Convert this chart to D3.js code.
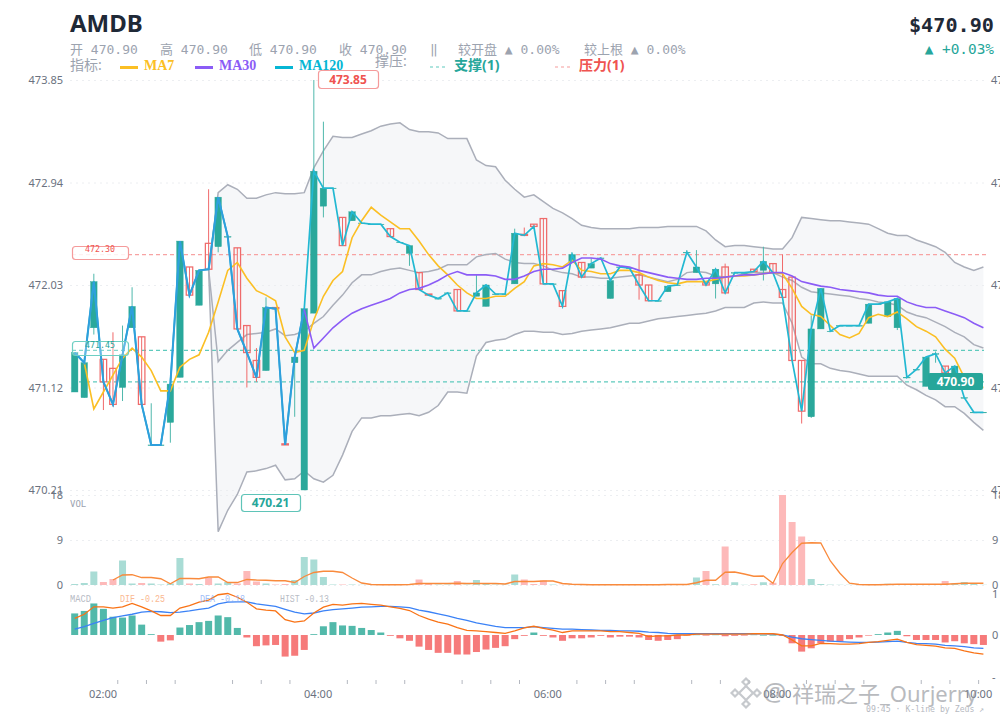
<!DOCTYPE html>
<html><head><meta charset="utf-8">
<script src="https://cdn.jsdelivr.net/npm/d3@7"></script>
<style>html,body{margin:0;padding:0;background:#fff;overflow:hidden}svg{display:block}</style>
</head><body><div id="chart"></div>
<script>
const opens=[471.08,471.03,471.65,471.37,471.29,471.12,471.65,471.57,
470.61,470.61,470.81,471.21,472.19,471.85,472.40,472.37,
472.46,472.36,471.67,471.36,471.27,471.83,470.62,471.34,
470.21,471.78,472.73,472.89,472.63,472.60,472.58,472.57,
472.57,472.53,472.41,472.31,472.14,471.95,471.91,471.96,
471.99,471.80,471.93,471.84,471.95,471.95,472.04,472.48,
472.57,472.62,472.04,471.98,472.23,472.23,472.18,472.27,
471.91,472.19,472.18,472.12,472.03,471.89,471.97,472.03,
472.32,472.14,472.05,472.04,472.19,472.14,472.14,472.17,
472.16,472.22,471.99,472.10,471.36,470.86,471.64,471.62,
471.67,471.67,471.67,471.69,471.86,471.75,471.65,471.21,
471.28,471.13,471.42,471.31,471.19,471.03,470.90,470.90];
const closes=[471.43,471.34,472.06,471.17,470.97,471.41,471.84,470.97,
470.61,470.61,471.15,472.42,471.94,472.16,472.17,472.81,
472.46,471.64,471.43,471.21,471.83,471.82,470.61,471.39,
471.82,473.04,472.89,472.89,472.38,472.68,472.58,472.57,
472.57,472.46,472.41,472.38,471.99,471.94,471.91,471.96,
471.80,471.80,471.96,472.03,471.95,471.95,472.49,472.47,
472.55,472.04,472.04,471.84,472.30,472.10,472.22,472.27,
472.07,472.19,472.18,472.03,471.89,471.89,472.02,472.03,
472.32,472.19,472.03,472.17,471.96,472.14,472.14,472.15,
472.24,472.14,471.92,471.36,470.91,471.64,472.00,471.62,
471.67,471.67,471.67,471.86,471.86,471.88,471.91,471.21,
471.28,471.39,471.42,471.25,471.31,471.03,470.90,470.90];
const highs=[471.43,471.34,472.13,471.37,471.61,471.67,472.01,471.57,
470.98,470.61,471.15,472.42,472.19,472.16,472.88,472.81,
472.47,472.36,471.67,471.47,471.92,471.83,470.62,471.39,
471.82,473.85,473.48,472.89,472.63,472.68,472.58,472.57,
472.57,472.53,472.41,472.38,472.14,471.95,471.91,471.96,
471.99,471.80,472.12,472.03,471.95,471.95,472.53,472.54,
472.57,472.62,472.04,471.98,472.32,472.23,472.27,472.27,
472.07,472.19,472.18,472.30,472.03,471.89,472.02,472.03,
472.34,472.34,472.05,472.17,472.22,472.14,472.14,472.17,
472.37,472.22,472.30,472.10,471.36,471.76,472.00,471.62,
471.67,471.67,471.67,471.86,471.86,471.88,471.91,471.21,
471.28,471.39,471.44,471.31,471.31,471.03,470.90,470.90];
const lows=[471.08,471.03,471.59,470.92,470.95,471.00,471.65,470.97,
470.61,470.61,470.63,471.21,471.93,471.85,472.17,472.32,
472.44,471.64,471.12,471.17,471.27,471.82,470.61,470.86,
470.21,471.78,472.63,472.89,472.38,472.60,472.58,472.57,
472.57,472.46,472.41,472.20,471.99,471.94,471.91,471.96,
471.80,471.80,471.93,471.84,471.95,471.95,472.04,472.47,
472.55,472.04,472.04,471.84,472.23,472.10,472.18,472.27,
471.91,472.19,472.18,471.90,471.89,471.89,471.97,472.03,
472.32,472.14,472.03,471.91,471.96,472.14,472.14,472.15,
472.07,472.14,471.92,471.36,470.80,470.85,471.64,471.62,
471.67,471.67,471.67,471.69,471.86,471.75,471.63,471.21,
471.28,471.13,471.34,471.25,471.19,471.03,470.90,470.90];
const ma7=[null,471.34,470.93,471.08,471.23,471.38,471.47,471.39,
471.27,471.09,471.09,471.30,471.37,471.41,471.61,471.88,
472.16,472.23,472.09,471.98,471.94,471.89,471.57,471.43,
471.45,471.72,471.93,472.07,472.15,472.45,472.60,472.72,
472.65,472.59,472.53,472.53,472.42,472.30,472.20,472.12,
472.03,471.96,471.91,471.91,471.93,471.93,472.00,472.06,
472.20,472.22,472.21,472.19,472.25,472.16,472.15,472.13,
472.13,472.16,472.16,472.14,472.10,472.07,472.05,472.04,
472.06,472.06,472.06,472.08,472.10,472.11,472.11,472.12,
472.13,472.14,472.13,472.00,471.84,471.77,471.75,471.67,
471.59,471.56,471.60,471.74,471.77,471.75,471.79,471.73,
471.66,471.62,471.57,471.46,471.38,471.21,471.15,471.12];
const ma30=[null,null,null,null,null,null,null,null,
null,null,null,null,null,null,null,null,
null,null,null,null,null,null,null,null,
471.81,471.47,471.56,471.65,471.72,471.78,471.82,471.85,
471.88,471.91,471.96,471.99,472.00,472.03,472.07,472.12,
472.15,472.12,472.12,472.12,472.11,472.08,472.08,472.11,
472.15,472.17,472.17,472.18,472.23,472.27,472.27,472.26,
472.22,472.20,472.19,472.16,472.14,472.12,472.10,472.09,
472.08,472.08,472.09,472.09,472.10,472.11,472.12,472.12,
472.13,472.14,472.14,472.11,472.06,472.04,472.02,472.01,
471.99,471.98,471.97,471.96,471.94,471.93,471.93,471.88,
471.85,471.83,471.83,471.80,471.77,471.74,471.69,471.65];
const bandStart=14;
const bollUpper=[472.17,472.85,
472.92,472.88,472.80,472.80,472.83,472.85,472.84,472.84,
472.85,473.07,473.22,473.35,473.34,473.34,473.37,473.40,
473.44,473.46,473.47,473.41,473.39,473.39,473.38,473.33,
473.33,473.33,473.14,473.09,473.08,472.96,472.88,472.81,
472.83,472.77,472.71,472.67,472.62,472.56,472.54,472.53,
472.53,472.53,472.53,472.54,472.54,472.54,472.55,472.55,
472.55,472.55,472.51,472.43,472.37,472.38,472.38,472.37,
472.36,472.35,472.35,472.45,472.63,472.62,472.61,472.60,
472.60,472.59,472.58,472.57,472.53,472.49,472.47,472.47,
472.43,472.40,472.37,472.32,472.23,472.19,472.16,472.19];
const bollMid=[472.17,471.35,
471.45,471.52,471.59,471.60,471.61,471.64,471.58,471.59,
471.62,471.69,471.75,471.85,471.94,472.05,472.12,472.12,
472.15,472.17,472.18,472.16,472.14,472.15,472.17,472.21,
472.21,472.21,472.28,472.30,472.31,472.26,472.23,472.22,
472.22,472.20,472.16,472.14,472.13,472.10,472.10,472.09,
472.09,472.10,472.11,472.12,472.10,472.08,472.06,472.08,
472.14,472.15,472.14,472.11,472.10,472.11,472.13,472.14,
472.14,472.14,472.10,472.07,472.01,471.97,471.96,471.95,
471.94,471.93,471.91,471.90,471.88,471.87,471.85,471.79,
471.76,471.74,471.70,471.66,471.61,471.57,471.50,471.47];
const bollLower=[472.17,469.84,
470.03,470.17,470.37,470.38,470.40,470.43,470.30,470.31,
470.38,470.31,470.28,470.34,470.52,470.73,470.85,470.85,
470.87,470.87,470.88,470.89,470.87,470.90,470.96,471.08,
471.08,471.07,471.40,471.52,471.54,471.55,471.59,471.62,
471.62,471.61,471.61,471.59,471.60,471.62,471.63,471.64,
471.65,471.67,471.69,471.69,471.71,471.73,471.74,471.75,
471.76,471.77,471.78,471.80,471.83,471.83,471.83,471.87,
471.88,471.87,471.87,471.69,471.39,471.33,471.33,471.29,
471.27,471.26,471.24,471.22,471.22,471.22,471.22,471.14,
471.10,471.05,471.01,470.95,470.95,470.89,470.81,470.74];
const volumes=[.2,.4,2.7,.6,1.2,4.9,.3,.4,
.3,.1,.3,5.4,.3,.2,1.5,.3,
.6,.3,2.8,.7,.3,.1,.2,1.0,
5.6,5.1,1.6,.1,.1,.1,.05,.05,
.05,.05,.05,.05,1.1,.3,.1,.1,
.8,.1,1.0,.4,.1,.1,2.1,1.1,
.2,.9,.1,.05,.05,.05,.05,.05,
.05,.05,.05,.05,.05,.05,.05,.05,
.05,1.5,2.8,.15,7.7,.55,.05,.15,
.55,.45,18,12.6,9.7,1.2,.2,.08,
.05,.05,.05,.05,.15,.25,.1,.1,
.1,.1,.1,.8,.3,.6,.2,.05];
const volMA=[null,null,null,null,1.0,2.0,2.05,1.5,
1.5,1.25,.25,1.3,1.3,1.25,1.6,1.6,
.5,.5,1.1,1.0,.95,.85,.85,.5,
1.7,2.5,2.75,2.75,2.5,1.4,.4,.1,
.05,.05,.05,.1,.3,.3,.3,.3,
.35,.3,.3,.3,.3,.2,.7,.7,
.7,.8,.8,.3,.15,.1,.05,.05,
.05,.05,.05,.05,.05,.05,.1,.1,
.1,.45,.95,.95,2.55,2.6,2.2,1.75,
1.8,.35,4.3,6.5,8.35,8.45,8.4,4.8,
2.35,.35,.1,.05,.05,.1,.15,.15,
.15,.15,.15,.15,.25,.35,.35,.35];
const hist=[.52,.58,.76,.63,.44,.42,.47,.25,
.02,-.16,-.13,.18,.24,.31,.34,.47,
.43,.17,-.06,-.27,-.25,-.24,-.52,-.50,
-.36,.02,.21,.31,.23,.22,.17,.12,
.06,-.02,-.08,-.14,-.28,-.36,-.43,-.43,
-.47,-.47,-.41,-.35,-.31,-.27,-.10,-.02,
.06,-.02,-.06,-.14,-.08,-.08,-.06,-.02,
-.06,-.04,-.04,-.06,-.12,-.14,-.12,-.10,
-.01,.01,-.01,.01,-.03,-.02,-.01,.01,
0,0,-.01,-.20,-.40,-.32,-.20,-.16,
-.16,-.10,-.06,-.01,.02,.06,.10,-.03,
-.12,-.12,-.12,-.18,-.15,-.20,-.22,-.24];
const dif=[.40,.50,.68,.68,.65,.68,.76,.68,
.58,.47,.47,.65,.71,.79,.84,.97,
1.00,.91,.79,.63,.60,.58,.37,.31,
.34,.53,.67,.74,.72,.75,.76,.74,
.72,.68,.64,.59,.47,.38,.31,.26,
.18,.11,.10,.08,.06,.04,.10,.17,
.21,.16,.12,.06,.10,.10,.10,.10,
.08,.08,.06,.04,-.04,-.02,-.02,0,
0,.02,.02,.02,.02,.02,.02,.03,
.03,.03,0,-.12,-.26,-.26,-.20,-.21,
-.22,-.22,-.21,-.18,-.16,-.13,-.10,-.18,
-.23,-.25,-.27,-.31,-.32,-.38,-.43,-.46];
const dea=[.14,.20,.28,.35,.42,.46,.50,.55,
.57,.56,.54,.55,.58,.62,.65,.75,
.79,.80,.80,.75,.72,.69,.62,.55,
.51,.53,.58,.61,.63,.65,.67,.68,
.69,.69,.68,.66,.60,.56,.51,.46,
.40,.35,.29,.25,.21,.18,.18,.18,
.20,.18,.16,.14,.14,.13,.12,.11,
.11,.10,.10,.09,.07,.06,.04,.03,
.03,.03,.03,.03,.03,.03,.03,.03,
.03,.02,0,-.05,-.09,-.11,-.13,-.15,
-.16,-.17,-.18,-.18,-.17,-.16,-.15,-.18,
-.20,-.21,-.22,-.25,-.26,-.28,-.31,-.32];
const priceTicks=[473.85,472.94,472.03,471.12,470.21];
const volTicks=[18,9,0];
const macdTicks=[1,0,-1];
const supports=[471.45,471.17];
const resistance=472.30;
const minorTicks=[4.45,7.45,10.45,16.45,19.45,22.45,28.45,31.45,34.45,40.45,43.45,46.45,52.45,55.45,58.45,64.45,67.45,70.45,76.45,79.45,82.45,88.45,91.45,94.45];
const timeLabels=[[2.97,"02:00"],[25.45,"04:00"],[49.45,"06:00"],[73.45,"08:00"],[94.45,"10:00"]];

const W=1000,H=720;
const svg=d3.select("#chart").append("svg").attr("width",W).attr("height",H);
const SANS='"Noto Sans","Noto Sans CJK SC",sans-serif',MONO='"DejaVu Sans Mono","Noto Sans CJK SC",monospace';
const x=d3.scaleLinear().domain([0,95]).range([74.7,983.4]);
const y=d3.scaleLinear().domain([470.21,473.85]).range([490,80]);
const yV=d3.scaleLinear().domain([0,18]).range([585,495]);
const yM=d3.scaleLinear().domain([-1,1]).range([676.5,593.5]);
const idx=d3.range(closes.length);

const grid=(vals,sc)=>svg.append("g").selectAll("line").data(vals).join("line")
 .attr("x1",70).attr("x2",985).attr("y1",d=>sc(d)+.5).attr("y2",d=>sc(d)+.5)
 .attr("stroke","#eceef1").attr("stroke-dasharray","2,4");
const bandIdx=bollUpper.map((_,k)=>k+bandStart);
svg.append("path").datum(bandIdx).attr("fill","#f6f7f9")
 .attr("d",d3.area().x(i=>x(i)).y0(i=>y(bollLower[i-bandStart])).y1(i=>y(bollUpper[i-bandStart])));
grid(priceTicks,y);grid(volTicks,yV);
function axisText(g,anchor){g.select(".domain").remove();
 g.selectAll(".tick text").attr("font-family",SANS).attr("font-size",11).attr("fill","#6b7280").attr("text-anchor",anchor);}
svg.append("g").attr("transform","translate(63,0)").call(d3.axisLeft(y).tickValues(priceTicks).tickSize(0).tickPadding(0).tickFormat(d3.format(".2f"))).call(axisText,"end");
svg.append("g").attr("transform","translate(991,0)").call(d3.axisRight(y).tickValues(priceTicks).tickSize(0).tickPadding(0).tickFormat(d3.format(".2f"))).call(axisText,"start");
svg.append("g").attr("transform","translate(63,0)").call(d3.axisLeft(yV).tickValues(volTicks).tickSize(0).tickPadding(0).tickFormat(d=>d)).call(axisText,"end");
svg.append("g").attr("transform","translate(992,0)").call(d3.axisRight(yV).tickValues(volTicks).tickSize(0).tickPadding(0).tickFormat(d=>d)).call(axisText,"start");
svg.append("g").attr("transform","translate(992,0)").call(d3.axisRight(yM).tickValues(macdTicks).tickSize(0).tickPadding(0).tickFormat(d=>d<0?"-":d)).call(axisText,"start");

const levels=svg.append("g");
levels.append("line").attr("x1",72).attr("x2",986).attr("y1",y(resistance)).attr("y2",y(resistance)).attr("stroke","#f7a3a3").attr("stroke-dasharray","4,3").attr("stroke-width",1.2);
levels.selectAll("line.s").data(supports).join("line").attr("class","s").attr("x1",72).attr("x2",984).attr("y1",d=>y(d)).attr("y2",d=>y(d)).attr("stroke","#5fcabd").attr("stroke-dasharray","4,3").attr("stroke-width",1.2);

const lineOf=(arr,offset,sc)=>d3.line().defined(i=>arr[i-offset]!=null).x(i=>x(i)).y(i=>sc(arr[i-offset]));
[bollUpper,bollMid,bollLower].forEach(a=>{
 svg.append("path").datum(bandIdx).attr("fill","none").attr("stroke","#abafba").attr("stroke-width",1.5).attr("d",lineOf(a,bandStart,y));
});

const bodyW=6.5;
const c=svg.append("g").selectAll("g").data(idx).join("g");
c.append("line").attr("x1",i=>x(i)).attr("x2",i=>x(i)).attr("y1",i=>y(highs[i])).attr("y2",i=>y(lows[i]))
 .attr("stroke",i=>closes[i]>=opens[i]?"#4fb8ac":"#f0696a").attr("stroke-width",1);
c.append("rect").attr("x",i=>x(i)-bodyW/2).attr("width",bodyW)
 .attr("y",i=>y(Math.max(opens[i],closes[i])))
 .attr("height",i=>Math.max(Math.abs(y(opens[i])-y(closes[i])),.6))
 .attr("fill",i=>closes[i]>=opens[i]?"#2aa89b":"none")
 .attr("stroke",i=>closes[i]>=opens[i]?"#2aa89b":"#ef6b6b")
 .attr("stroke-width",i=>closes[i]>=opens[i]?.4:1.25);

svg.append("path").datum(idx).attr("fill","none").attr("stroke","#fbbf24").attr("stroke-width",1.6).attr("d",lineOf(ma7,0,y));
svg.append("path").datum(idx).attr("fill","none").attr("stroke","#22b8d2").attr("stroke-width",1.7).attr("d",lineOf(closes,0,y));
svg.append("path").datum(idx.slice(0,25)).attr("fill","none").attr("stroke","#2f9fdc").attr("stroke-width",2).attr("d",lineOf(closes,0,y));
svg.append("path").datum(idx).attr("fill","none").attr("stroke","#8b5cf6").attr("stroke-width",1.6).attr("d",lineOf(ma30,0,y));

function tag(x0,x1,y0,y1,stroke,fill){svg.append("rect").attr("x",x0+.5).attr("y",y0+.5).attr("width",x1-x0).attr("height",y1-y0).attr("rx",3).attr("fill",fill).attr("stroke",stroke).attr("stroke-width",1.2);}
function label(px,py,s,o={}){const t=svg.append("text").attr("x",px).attr("y",py).text(s)
 .attr("font-family",o.f||SANS).attr("font-size",o.s||12).attr("font-weight",o.w||400).attr("fill",o.c||"#9ca3af")
 .attr("text-anchor",o.a||"start").attr("opacity",o.o==null?1:o.o);
 if(o.l)t.attr("textLength",o.l).attr("lengthAdjust","spacingAndGlyphs");return t;}
tag(72,128,246,259,"#f59b9b","rgba(255,255,255,.85)");
label(100,252,"472.30",{f:MONO,s:8.3,c:"#ef5350",a:"middle"});
tag(72,128,341,355,"#6fcfc3","rgba(255,255,255,.25)");
label(100,348,"471.45",{f:MONO,s:8.3,c:"#26a69a",a:"middle"});
tag(318,378,70,88,"#f59b9b","#fff");
label(348,83.5,"473.85",{s:12,w:700,c:"#ef5350",a:"middle"});
tag(241,300,494,511,"#5fc4b8","#fff");
label(270.5,507,"470.21",{s:12,w:700,c:"#26a69a",a:"middle"});
svg.append("rect").attr("x",928).attr("y",373).attr("width",55).attr("height",17).attr("rx",2).attr("fill","#26a69a");
label(955.5,385.5,"470.90",{s:12,w:700,c:"#fff",a:"middle"});

const vBarW=7;
svg.append("g").selectAll("rect").data(idx).join("rect")
 .attr("x",i=>x(i)-vBarW/2).attr("width",vBarW).attr("y",i=>yV(volumes[i])).attr("height",i=>yV(0)-yV(volumes[i]))
 .attr("fill",i=>closes[i]>=opens[i]?"#a9dcd5":"#fdb9b9");
svg.append("path").datum(idx).attr("fill","none").attr("stroke","#f98a3c").attr("stroke-width",1.3).attr("d",lineOf(volMA,0,yV));
label(70,507,"VOL",{f:MONO,s:9,c:"#9ca3af"});

svg.append("g").selectAll("rect").data(idx).join("rect")
 .attr("x",i=>x(i)-vBarW/2).attr("width",vBarW)
 .attr("y",i=>Math.min(yM(hist[i]),yM(0)))
 .attr("height",i=>Math.max(Math.abs(yM(hist[i])-yM(0)),.6))
 .attr("fill",i=>hist[i]>=0?"#52b9aa":"#f67a7a");
svg.append("path").datum(idx).attr("fill","none").attr("stroke","#3b82f6").attr("stroke-width",1.3).attr("d",lineOf(dea,0,yM));
svg.append("path").datum(idx).attr("fill","none").attr("stroke","#f97316").attr("stroke-width",1.3).attr("d",lineOf(dif,0,yM));
const mf='"Liberation Mono",monospace';
label(70,602,"MACD",{f:mf,s:10,c:"#b8bcc5",l:21});
label(120,602,"DIF -0.25",{f:mf,s:10,c:"#f9a26c",o:.75,l:45});
label(200,602,"DEA -0.18",{f:mf,s:10,c:"#7fa8f5",o:.75,l:45});
label(280,602,"HIST -0.13",{f:mf,s:10,c:"#b8bcc5",l:49});

const axisT=svg.append("g").attr("transform","translate(0,680)").call(
 d3.axisBottom(x).tickValues(minorTicks).tickSize(4).tickFormat(""));
axisT.select(".domain").remove();axisT.selectAll("line").attr("stroke","#b4b8c0");
svg.append("g").selectAll("text").data(timeLabels).join("text")
 .attr("x",d=>x(d[0])).attr("y",698).attr("text-anchor","middle").text(d=>d[1])
 .attr("font-family",SANS).attr("font-size",11).attr("fill","#6b7280");

label(70,32,"AMDB",{s:24,w:700,c:"#1f2937"});
const ohlc=[[70,"开 470.90"],[160,"高 470.90"],[249,"低 470.90"],[339,"收 470.90"],[430,"‖"],[458,"较开盘 ▲ 0.00%"],[584,"较上根 ▲ 0.00%"]];
ohlc.forEach(d=>label(d[0],54,d[1],{f:MONO,s:13,c:"#9ca3af"}));
label(994,32,"$470.90",{f:MONO,s:20.2,w:700,c:"#1f2937",a:"end"});
label(994,54,"▲ +0.03%",{f:MONO,s:14.4,c:"#26a69a",a:"end"});
label(70,70,"指标:",{s:14,c:"#9ca3af"});
const SERIF='"Liberation Serif",serif';
[[120,"MA7","#fbbf24"],[195,"MA30","#8b5cf6"],[275,"MA120","#06b6d4"]].forEach(d=>{
 svg.append("rect").attr("x",d[0]).attr("y",66).attr("width",18).attr("height",3).attr("fill",d[2]);
 label(d[0]+24,70,d[1],{f:SERIF,s:14,w:700,c:d[2]});
});
label(375,66,"撑压:",{s:14,c:"#9ca3af"});
svg.append("line").attr("x1",430).attr("x2",446).attr("y1",67).attr("y2",67).attr("stroke","#5fcabd").attr("stroke-dasharray","3,3").attr("stroke-width",1.2);
label(454,70,"支撑(1)",{s:14,w:700,c:"#26a69a"});
svg.append("line").attr("x1",555).attr("x2",572).attr("y1",67).attr("y2",67).attr("stroke","#f59b9b").attr("stroke-dasharray","3,3").attr("stroke-width",1.2);
label(579,70,"压力(1)",{s:14,w:700,c:"#ef5350"});

const wm=svg.append("g").attr("fill","none").attr("stroke","#b9bcc1").attr("stroke-width",2.2).attr("opacity",.8);
[[746,693,7],[735,693,3.5],[757,693,3.5],[746,682,3.5],[746,704,3.5]].forEach(d=>{
 wm.append("path").attr("d",`M${d[0]} ${d[1]-d[2]}L${d[0]+d[2]} ${d[1]}L${d[0]} ${d[1]+d[2]}L${d[0]-d[2]} ${d[1]}Z`);});
label(763,701,"@",{s:26,c:"#8e9197",o:.62});
label(792,702,"祥瑞之子_Ourjerry",{s:22,c:"#8e9197",o:.62});
label(866,712,"09:45 · K-line by Zeus ↗",{f:MONO,s:8.2,c:"#b6b9bf"});
</script></body></html>
